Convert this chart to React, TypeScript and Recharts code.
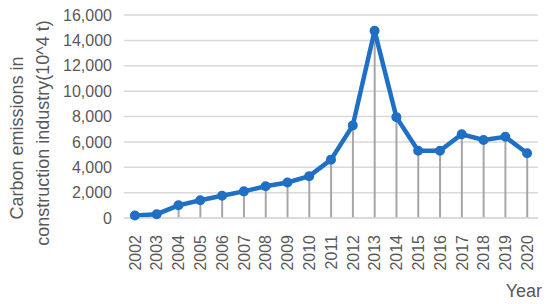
import { Bar, CartesianGrid, ComposedChart, Line, XAxis, YAxis } from "recharts";

const years = [
  "2002", "2003", "2004", "2005", "2006", "2007", "2008", "2009", "2010", "2011",
  "2012", "2013", "2014", "2015", "2016", "2017", "2018", "2019", "2020",
];
const emissions = [
  200, 300, 1000, 1400, 1750, 2100, 2500, 2800, 3300, 4600,
  7300, 14750, 7950, 5300, 5300, 6600, 6150, 6400, 5100,
];
const yTicks = [0, 2000, 4000, 6000, 8000, 10000, 12000, 14000, 16000];

const data = years.map((year, i) => ({ year, value: emissions[i] }));

const FONT = "'Liberation Sans', Arial, sans-serif";
const GREY_TEXT = "#595959";
const BLUE = "#1f70c4";

function YearTick({ x, y, payload }: any) {
  return (
    <text
      transform={`translate(${x},${y + 9}) rotate(-90)`}
      textAnchor="end"
      dy="0.36em"
      fill={GREY_TEXT}
      fontSize={16}
      fontFamily={FONT}
    >
      {payload.value}
    </text>
  );
}

function AxisTitle() {
  return (
    <g fill={GREY_TEXT} fontSize={18} fontFamily={FONT}>
      <text transform="translate(17,138) rotate(-90)" textAnchor="middle" dy="0.36em">
        Carbon emissions in
      </text>
      <text transform="translate(43,133) rotate(-90)" textAnchor="middle" dy="0.36em">
        construction industry(10^4 t)
      </text>
      <text x={542} y={297} textAnchor="end">
        Year
      </text>
    </g>
  );
}

export default function App() {
  return (
    <div style={{ position: "absolute", left: 0, top: 0, background: "#fff" }}>
      <ComposedChart
        width={550}
        height={304}
        data={data}
        margin={{ top: 15, right: 12, bottom: 0, left: 64 }}
        barCategoryGap={0}
      >
        <CartesianGrid vertical={false} stroke="#d9d9d9" strokeWidth={1.5} />
        <XAxis
          dataKey="year"
          height={86}
          interval={0}
          tickLine={false}
          axisLine={{ stroke: "#d9d9d9", strokeWidth: 1.5 }}
          tick={<YearTick />}
        />
        <YAxis
          width={60}
          domain={[0, 16000]}
          ticks={yTicks}
          tickLine={false}
          axisLine={false}
          tickMargin={6}
          tickFormatter={(v: number) => v.toLocaleString("en-US")}
          tick={{ fill: GREY_TEXT, fontSize: 16, fontFamily: FONT }}
          label={{ content: () => <AxisTitle /> }}
        />
        <Bar dataKey="value" fill="#a6a6a6" barSize={2} isAnimationActive={false} />
        <Line
          dataKey="value"
          stroke={BLUE}
          strokeWidth={4.5}
          dot={{ r: 4, fill: BLUE, stroke: BLUE, strokeWidth: 2 }}
          activeDot={false}
          isAnimationActive={false}
        />
      </ComposedChart>
    </div>
  );
}
